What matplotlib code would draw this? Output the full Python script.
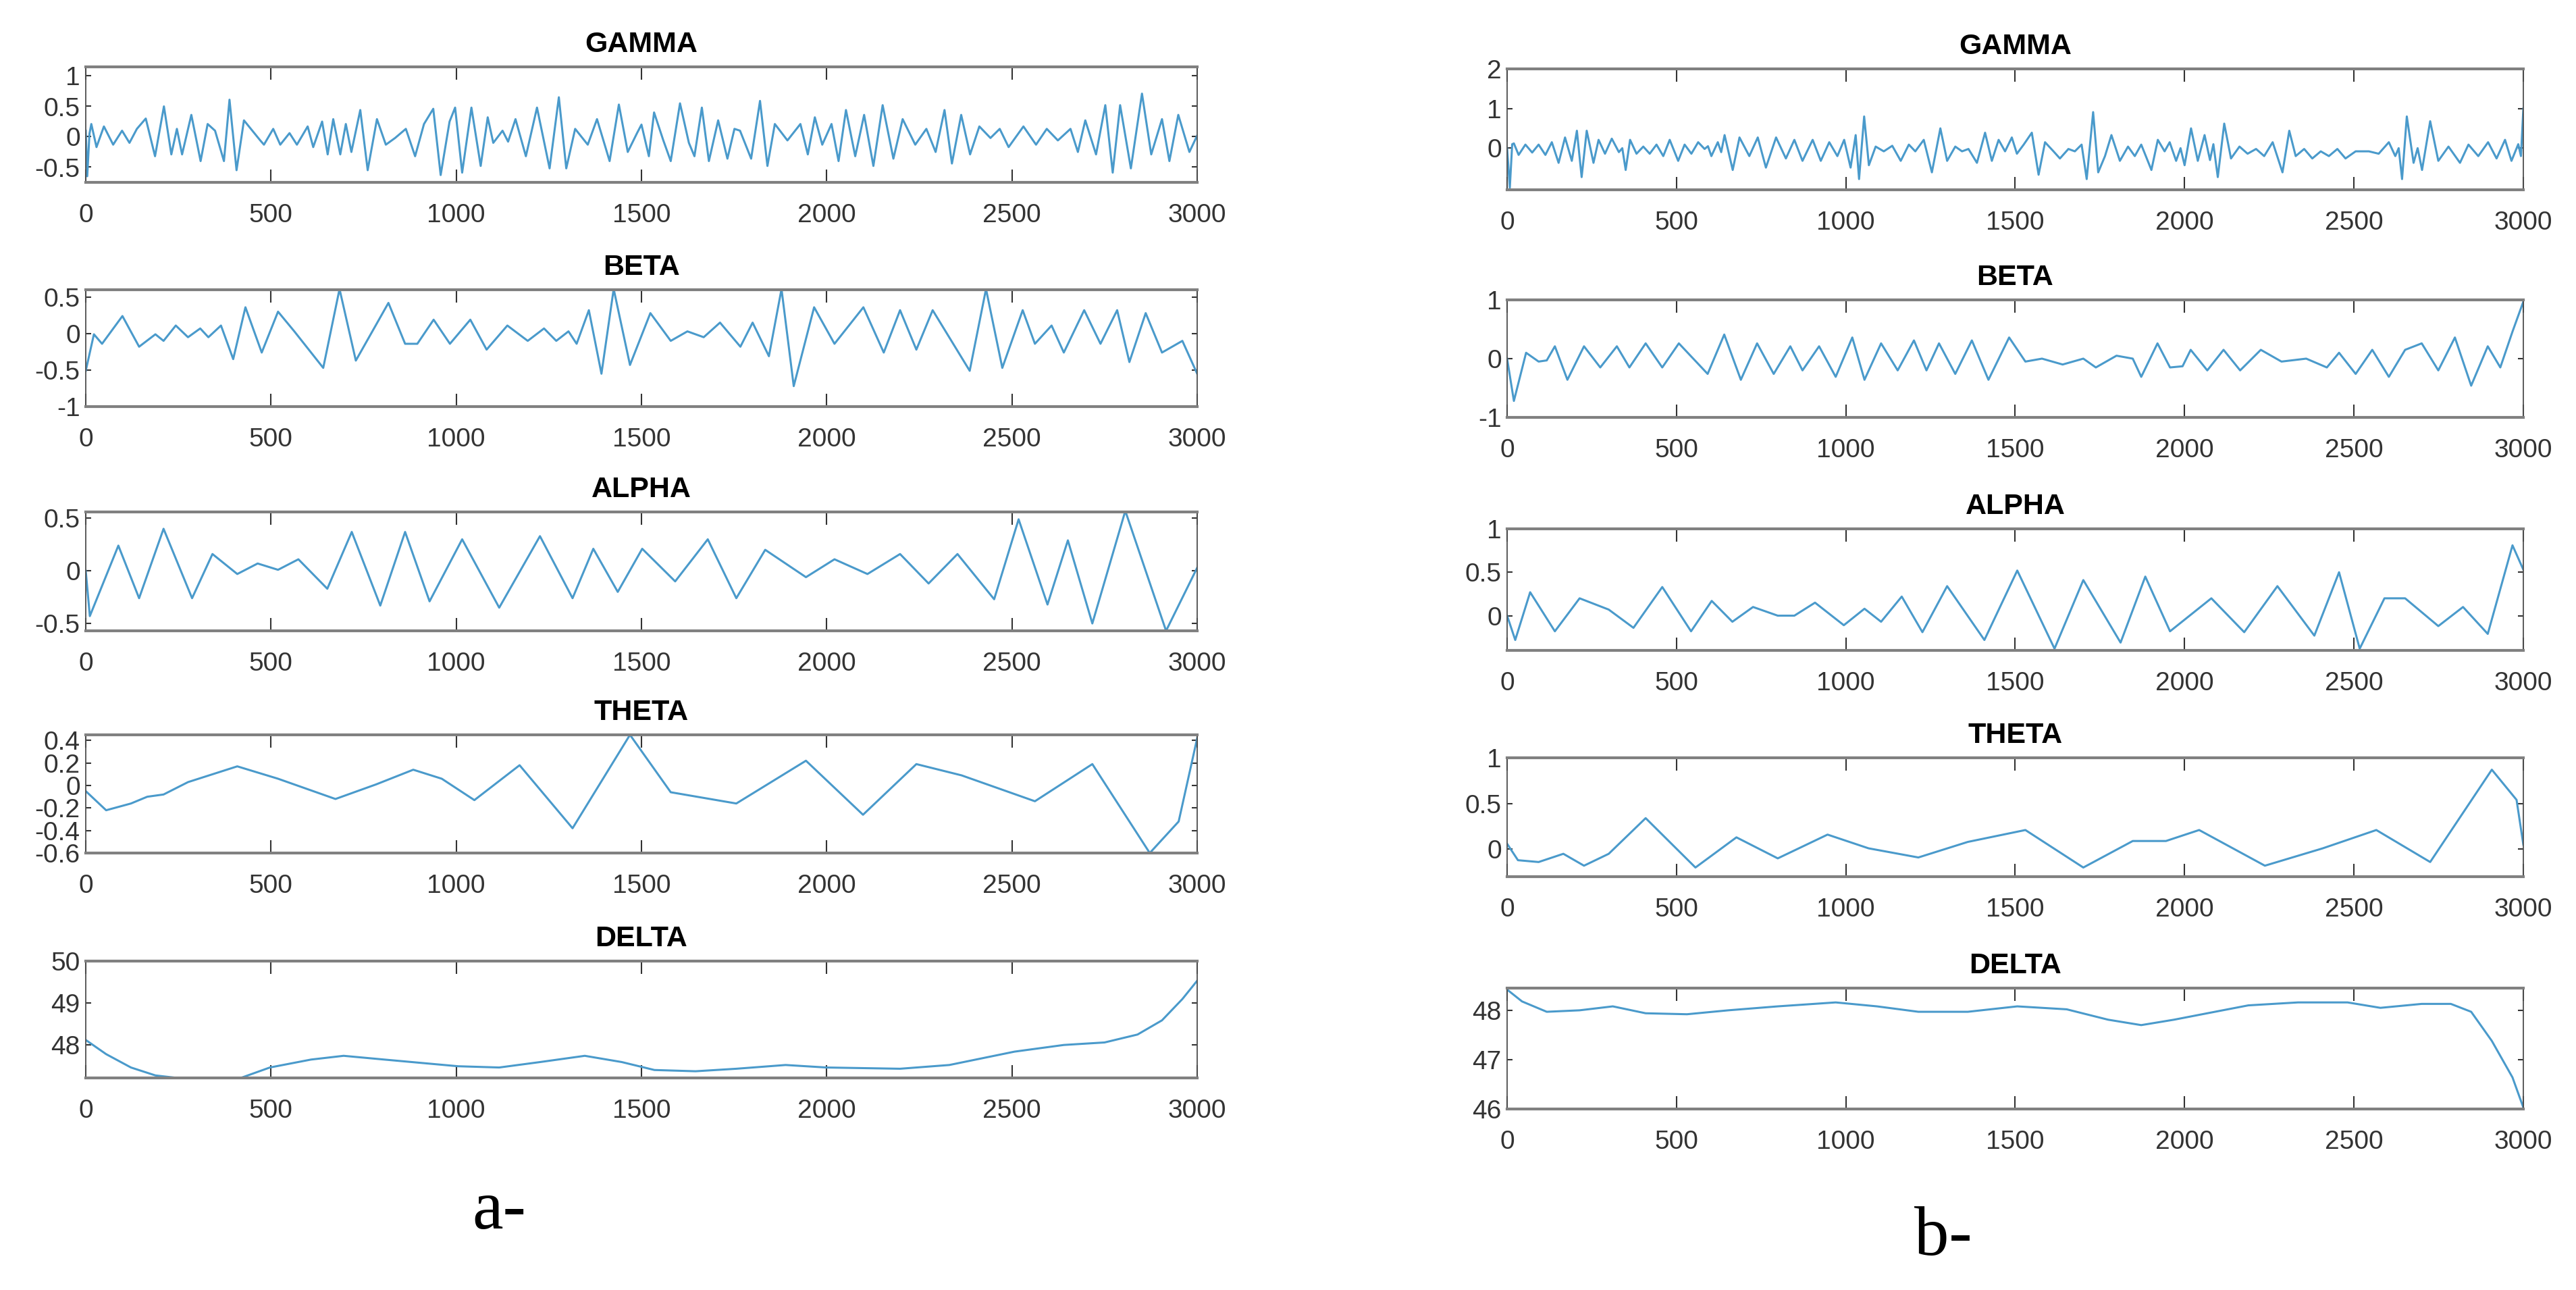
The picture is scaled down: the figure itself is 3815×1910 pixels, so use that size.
import matplotlib
matplotlib.use('Agg')
import matplotlib.pyplot as plt
import numpy as np

plt.rcParams['font.family'] = ['Liberation Sans', 'DejaVu Sans']

bands = ['GAMMA', 'BETA', 'ALPHA', 'THETA', 'DELTA']
x_ticks = [0, 500, 1000, 1500, 2000, 2500, 3000]

# panel a- : (sample, value)
a_gamma = [(0, 0.1), (4, -0.65), (10, 0.05), (15, 0.21), (29, -0.17), (49, 0.17), (74, -0.13), (98, 0.1),
           (118, -0.1), (138, 0.13), (162, 0.3), (187, -0.32), (211, 0.5), (231, -0.29), (246, 0.13),
           (260, -0.29), (285, 0.36), (310, -0.4), (329, 0.21), (349, 0.1), (373, -0.4), (388, 0.61),
           (407, -0.55), (427, 0.27), (471, -0.06), (481, -0.13), (506, 0.13), (525, -0.13), (550, 0.06),
           (570, -0.13), (599, 0.17), (614, -0.17), (638, 0.25), (653, -0.29), (668, 0.29), (687, -0.29),
           (702, 0.21), (717, -0.25), (741, 0.44), (761, -0.55), (786, 0.29), (810, -0.13), (835, -0.02),
           (864, 0.13), (889, -0.32), (913, 0.21), (938, 0.46), (958, -0.63), (982, 0.25), (997, 0.48),
           (1016, -0.59), (1041, 0.48), (1066, -0.48), (1085, 0.32), (1100, -0.1), (1125, 0.1),
           (1140, -0.08), (1160, 0.29), (1188, -0.32), (1218, 0.48), (1252, -0.52), (1277, 0.65),
           (1297, -0.52), (1321, 0.13), (1355, -0.13), (1380, 0.29), (1414, -0.4), (1439, 0.53),
           (1463, -0.25), (1488, 0.06), (1500, 0.2), (1520, -0.32), (1534, 0.4), (1559, -0.06),
           (1579, -0.4), (1604, 0.55), (1628, -0.1), (1643, -0.32), (1663, 0.48), (1682, -0.4),
           (1707, 0.27), (1732, -0.36), (1751, 0.13), (1766, 0.1), (1796, -0.36), (1820, 0.59),
           (1840, -0.48), (1860, 0.21), (1894, -0.06), (1929, 0.21), (1949, -0.29), (1968, 0.32),
           (1988, -0.13), (2013, 0.21), (2032, -0.4), (2052, 0.44), (2077, -0.32), (2101, 0.36),
           (2126, -0.48), (2151, 0.52), (2180, -0.36), (2205, 0.29), (2239, -0.13), (2269, 0.13),
           (2294, -0.25), (2318, 0.44), (2338, -0.44), (2363, 0.36), (2387, -0.29), (2412, 0.17),
           (2442, -0.02), (2467, 0.13), (2491, -0.17), (2531, 0.17), (2565, -0.13), (2594, 0.13),
           (2624, -0.06), (2658, 0.13), (2678, -0.25), (2698, 0.27), (2727, -0.29), (2752, 0.52),
           (2772, -0.59), (2792, 0.52), (2821, -0.52), (2851, 0.71), (2876, -0.29), (2905, 0.29),
           (2925, -0.4), (2949, 0.36), (2979, -0.25), (3000, 0.02)]

a_beta = [(0, -0.51), (22, -0.01), (44, -0.14), (99, 0.24), (144, -0.18), (188, -0.01), (210, -0.1),
          (243, 0.11), (276, -0.05), (309, 0.07), (331, -0.05), (365, 0.11), (398, -0.35), (431, 0.36),
          (475, -0.26), (519, 0.3), (563, 0.03), (641, -0.47), (685, 0.61), (729, -0.37), (817, 0.42),
          (862, -0.14), (895, -0.14), (939, 0.19), (983, -0.14), (1038, 0.19), (1082, -0.22), (1138, 0.11),
          (1193, -0.1), (1237, 0.07), (1270, -0.1), (1303, 0.03), (1325, -0.14), (1358, 0.32), (1392, -0.55),
          (1425, 0.61), (1469, -0.43), (1524, 0.28), (1579, -0.1), (1624, 0.03), (1668, -0.05), (1712, 0.15),
          (1767, -0.18), (1800, 0.15), (1844, -0.31), (1878, 0.61), (1911, -0.72), (1966, 0.36),
          (2021, -0.14), (2099, 0.36), (2154, -0.26), (2198, 0.32), (2242, -0.22), (2286, 0.32),
          (2386, -0.51), (2430, 0.61), (2474, -0.47), (2529, 0.32), (2562, -0.14), (2607, 0.11),
          (2640, -0.26), (2695, 0.32), (2739, -0.14), (2784, 0.32), (2817, -0.39), (2861, 0.28),
          (2905, -0.26), (2960, -0.1), (3000, -0.55)]

a_alpha = [(0, 0.0), (11, -0.43), (88, 0.24), (144, -0.26), (210, 0.4), (287, -0.26), (342, 0.16),
           (409, -0.03), (464, 0.07), (519, 0.01), (574, 0.11), (652, -0.17), (718, 0.37), (795, -0.33),
           (862, 0.37), (928, -0.29), (1016, 0.3), (1116, -0.35), (1226, 0.33), (1314, -0.26), (1370, 0.21),
           (1436, -0.2), (1502, 0.21), (1591, -0.1), (1679, 0.3), (1756, -0.26), (1834, 0.2), (1944, -0.06),
           (2021, 0.11), (2110, -0.03), (2198, 0.16), (2275, -0.12), (2353, 0.16), (2452, -0.27),
           (2518, 0.49), (2596, -0.32), (2651, 0.29), (2717, -0.5), (2806, 0.57), (2916, -0.57), (3000, 0.03)]

a_theta = [(0, -0.05), (55, -0.22), (122, -0.16), (166, -0.1), (210, -0.08), (276, 0.03), (409, 0.17),
           (519, 0.06), (674, -0.12), (784, 0.01), (884, 0.14), (961, 0.06), (1049, -0.13), (1171, 0.18),
           (1314, -0.38), (1469, 0.45), (1579, -0.06), (1756, -0.16), (1944, 0.22), (2098, -0.26),
           (2242, 0.19), (2364, 0.09), (2562, -0.14), (2717, 0.19), (2872, -0.6), (2950, -0.32), (3000, 0.42)]

a_delta = [(0, 48.11), (55, 47.77), (122, 47.45), (188, 47.26), (276, 47.17), (409, 47.17), (497, 47.45),
           (608, 47.64), (696, 47.73), (806, 47.64), (1005, 47.48), (1116, 47.45), (1226, 47.58),
           (1347, 47.73), (1447, 47.58), (1535, 47.39), (1646, 47.36), (1756, 47.42), (1889, 47.51),
           (1999, 47.45), (2198, 47.42), (2331, 47.51), (2507, 47.83), (2640, 47.99), (2750, 48.05),
           (2839, 48.24), (2905, 48.58), (2960, 49.09), (3000, 49.53)]

# panel b-
b_gamma = [(0, 0.0), (8, -1.0), (15, 0.1), (20, 0.12), (34, -0.17), (54, 0.09), (74, -0.11), (93, 0.09),
           (113, -0.17), (132, 0.15), (152, -0.37), (171, 0.27), (191, -0.32), (206, 0.44), (220, -0.73),
           (235, 0.44), (255, -0.37), (270, 0.21), (289, -0.14), (309, 0.24), (330, -0.1), (340, 0.0),
           (350, -0.55), (363, 0.21), (382, -0.14), (402, 0.04), (421, -0.14), (441, 0.09), (461, -0.2),
           (480, 0.21), (505, -0.32), (524, 0.09), (544, -0.14), (564, 0.15), (583, -0.02), (593, 0.05),
           (603, -0.2), (622, 0.15), (632, -0.1), (642, 0.33), (666, -0.55), (686, 0.27), (715, -0.2),
           (740, 0.27), (764, -0.49), (794, 0.27), (823, -0.26), (848, 0.21), (872, -0.32), (902, 0.21),
           (926, -0.32), (951, 0.15), (975, -0.2), (995, 0.21), (1014, -0.49), (1029, 0.33), (1039, -0.78),
           (1054, 0.8), (1068, -0.43), (1088, 0.04), (1112, -0.08), (1137, 0.06), (1162, -0.32),
           (1186, 0.09), (1205, -0.08), (1230, 0.21), (1254, -0.61), (1279, 0.5), (1299, -0.32),
           (1323, 0.04), (1343, -0.08), (1362, -0.02), (1387, -0.37), (1411, 0.39), (1431, -0.32),
           (1451, 0.21), (1470, -0.08), (1490, 0.27), (1505, -0.14), (1525, 0.09), (1549, 0.39),
           (1569, -0.67), (1588, 0.15), (1613, -0.08), (1632, -0.26), (1657, -0.02), (1676, -0.08),
           (1696, 0.09), (1711, -0.78), (1730, 0.91), (1745, -0.61), (1765, -0.2), (1784, 0.33),
           (1809, -0.32), (1833, 0.04), (1853, -0.2), (1872, 0.09), (1902, -0.55), (1921, 0.21),
           (1941, -0.08), (1956, 0.15), (1975, -0.32), (1988, 0.0), (2000, -0.43), (2019, 0.5),
           (2039, -0.32), (2059, 0.33), (2075, -0.3), (2085, 0.1), (2098, -0.73), (2117, 0.62),
           (2137, -0.26), (2162, 0.04), (2186, -0.14), (2211, -0.02), (2235, -0.2), (2260, 0.15),
           (2289, -0.61), (2309, 0.44), (2328, -0.2), (2353, -0.02), (2377, -0.26), (2402, -0.08),
           (2426, -0.2), (2451, -0.02), (2475, -0.26), (2505, -0.08), (2544, -0.08), (2573, -0.14),
           (2603, 0.15), (2622, -0.2), (2632, 0.0), (2642, -0.78), (2656, 0.8), (2676, -0.37), (2688, 0.0),
           (2701, -0.55), (2725, 0.68), (2749, -0.32), (2779, 0.04), (2813, -0.37), (2838, 0.09),
           (2867, -0.2), (2896, 0.15), (2921, -0.26), (2946, 0.21), (2965, -0.32), (2985, 0.1),
           (2993, -0.2), (3000, 1.0)]

b_beta = [(0, 0.0), (20, -0.72), (56, 0.1), (93, -0.05), (117, -0.03), (141, 0.21), (178, -0.36),
          (227, 0.21), (275, -0.15), (324, 0.21), (361, -0.15), (409, 0.26), (458, -0.15), (507, 0.26),
          (592, -0.26), (641, 0.41), (690, -0.36), (738, 0.26), (787, -0.26), (836, 0.21), (872, -0.2),
          (921, 0.21), (970, -0.31), (1019, 0.36), (1055, -0.36), (1104, 0.26), (1153, -0.2), (1201, 0.31),
          (1238, -0.2), (1275, 0.26), (1323, -0.26), (1372, 0.31), (1421, -0.36), (1482, 0.36),
          (1530, -0.05), (1579, 0.0), (1640, -0.1), (1701, 0.0), (1738, -0.15), (1799, 0.05), (1847, 0.0),
          (1872, -0.31), (1920, 0.26), (1957, -0.15), (1994, -0.13), (2018, 0.15), (2067, -0.2),
          (2115, 0.15), (2164, -0.2), (2225, 0.15), (2286, -0.05), (2359, 0.0), (2420, -0.15), (2456, 0.1),
          (2505, -0.26), (2554, 0.15), (2603, -0.31), (2651, 0.15), (2700, 0.26), (2749, -0.2),
          (2798, 0.36), (2846, -0.46), (2895, 0.21), (2932, -0.15), (2968, 0.46), (3000, 0.97)]

b_alpha = [(0, 0.0), (24, -0.28), (68, 0.27), (141, -0.18), (214, 0.2), (300, 0.07), (373, -0.14),
           (458, 0.33), (543, -0.18), (604, 0.17), (665, -0.07), (726, 0.1), (799, 0.0), (848, 0.0),
           (909, 0.15), (994, -0.11), (1055, 0.08), (1104, -0.07), (1165, 0.22), (1226, -0.19), (1299, 0.34),
           (1409, -0.28), (1506, 0.52), (1616, -0.38), (1701, 0.41), (1811, -0.31), (1884, 0.45),
           (1957, -0.18), (2079, 0.2), (2176, -0.19), (2274, 0.34), (2383, -0.23), (2456, 0.5),
           (2517, -0.38), (2590, 0.2), (2651, 0.2), (2749, -0.12), (2822, 0.1), (2895, -0.21), (2968, 0.81),
           (3000, 0.53)]

b_theta = [(0, 0.06), (32, -0.12), (93, -0.14), (166, -0.05), (227, -0.18), (300, -0.05), (409, 0.34),
           (556, -0.2), (677, 0.13), (799, -0.1), (946, 0.16), (1067, 0.01), (1214, -0.09), (1360, 0.08),
           (1530, 0.21), (1701, -0.2), (1847, 0.09), (1945, 0.09), (2043, 0.21), (2237, -0.18),
           (2408, 0.01), (2566, 0.21), (2725, -0.14), (2907, 0.87), (2980, 0.54), (3000, 0.05)]

b_delta = [(0, 48.42), (44, 48.18), (117, 47.97), (214, 48.0), (312, 48.08), (409, 47.94), (531, 47.92),
           (653, 48.0), (799, 48.08), (970, 48.16), (1092, 48.08), (1214, 47.97), (1360, 47.97),
           (1506, 48.08), (1652, 48.02), (1774, 47.81), (1872, 47.7), (1969, 47.81), (2067, 47.94),
           (2188, 48.1), (2335, 48.16), (2481, 48.16), (2578, 48.05), (2700, 48.13), (2786, 48.13),
           (2846, 47.97), (2907, 47.38), (2968, 46.64), (3000, 46.03)]

a_ylims = [(-0.75, 1.15), (-1, 0.6), (-0.57, 0.56), (-0.6, 0.45), (47.2, 50)]
a_yticks = [[-0.5, 0, 0.5, 1], [-1, -0.5, 0, 0.5], [-0.5, 0, 0.5], [-0.6, -0.4, -0.2, 0, 0.2, 0.4], [48, 49, 50]]
b_ylims = [(-1.05, 2), (-1, 1), (-0.4, 1), (-0.3, 1), (46, 48.45)]
b_yticks = [[0, 1, 2], [-1, 0, 1], [0, 0.5, 1], [0, 0.5, 1], [46, 47, 48]]

W, H = 3816, 1910
fig = plt.figure(figsize=(W / 100, H / 100), dpi=100)

line_color = '#4a9acb'


def panel(x0, x1, top, bot, pts, name, ylim, yticks):
    ax = fig.add_axes([x0 / W, 1 - bot / H, (x1 - x0) / W, (bot - top) / H])
    xs, ys = np.array(pts).T
    ax.plot(xs, ys, color=line_color, lw=2.2)
    ax.set_xlim(0, 3000)
    ax.set_ylim(*ylim)
    ax.set_xticks(x_ticks)
    ax.set_yticks(yticks)
    ax.set_yticklabels(['%g' % v for v in yticks])
    ax.tick_params(axis='both', direction='in', top=True, right=True,
                   labelsize=28, colors='#333333', width=1.5)
    ax.tick_params(axis='x', length=14, pad=22)
    ax.tick_params(axis='y', length=6, pad=6)
    for s in ['top', 'bottom']:
        ax.spines[s].set_linewidth(3)
        ax.spines[s].set_color('#808080')
    for s in ['left', 'right']:
        ax.spines[s].set_linewidth(1.3)
        ax.spines[s].set_color('#4d4d4d')
    ax.set_title(name, fontsize=31, fontweight='bold', pad=16)
    return ax


a_rows = [(99, 270), (429, 602), (758, 934), (1088, 1263), (1423, 1596)]
b_rows = [(102, 281), (444, 618), (783, 963), (1122, 1298), (1463, 1642)]
a_data = [a_gamma, a_beta, a_alpha, a_theta, a_delta]
b_data = [b_gamma, b_beta, b_alpha, b_theta, b_delta]

for i in range(5):
    panel(127, 1773, a_rows[i][0], a_rows[i][1], a_data[i], bands[i], a_ylims[i], a_yticks[i])
    panel(2232, 3737, b_rows[i][0], b_rows[i][1], b_data[i], bands[i], b_ylims[i], b_yticks[i])

fig.text(739 / W, 1 - 1794 / H, 'a-', ha='center', va='center', fontsize=74, family='Liberation Serif')
fig.text(2878 / W, 1 - 1833 / H, 'b-', ha='center', va='center', fontsize=74, family='Liberation Serif')

fig.savefig('out.png', dpi=100)
